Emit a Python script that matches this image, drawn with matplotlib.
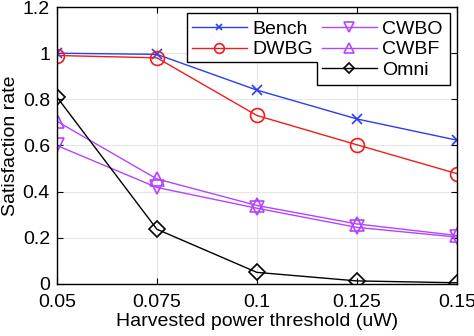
import numpy as np
import matplotlib
matplotlib.use('Agg')
from matplotlib import pyplot as plt
from matplotlib.patches import Polygon

plt.rcParams['font.family'] = ['Liberation Sans', 'DejaVu Sans']

thresholds = [0.05, 0.075, 0.1, 0.125, 0.15]
bench = [1.0, 0.995, 0.84, 0.715, 0.623]
dwbg = [0.99, 0.98, 0.73, 0.603, 0.478]
cwbo = [0.60, 0.418, 0.328, 0.245, 0.203]
cwbf = [0.705, 0.455, 0.34, 0.26, 0.21]
omni = [0.81, 0.237, 0.05, 0.013, 0.005]

xticks = [0.05, 0.075, 0.1, 0.125, 0.15]
xlabels = ['0.05', '0.075', '0.1', '0.125', '0.15']
yticks = [0, 0.2, 0.4, 0.6, 0.8, 1.0, 1.2]
ylabels = ['0', '0.2', '0.4', '0.6', '0.8', '1', '1.2']

fig = plt.figure(figsize=(4.74, 3.36), dpi=100)
ax = fig.add_axes([0.120, 0.155, 0.844, 0.824])

purple = '#b444ff'
ms = 10
h1, = ax.plot(thresholds, bench, '-x', color='#2b3cf5', lw=1, ms=7, mew=1.2, label='Bench')
h2, = ax.plot(thresholds, dwbg, '-o', color='#f01c1c', lw=1, ms=ms, mfc='none', mew=1.2, label='DWBG')
h3, = ax.plot(thresholds, cwbo, '-v', color=purple, lw=1, ms=ms, mfc='none', mew=1.2, label='CWBO')
h4, = ax.plot(thresholds, cwbf, '-^', color=purple, lw=1, ms=ms, mfc='none', mew=1.2, label='CWBF')
h5, = ax.plot(thresholds, omni, '-D', color='black', lw=1, ms=8, mfc='none', mew=1.2, label='Omni')

ax.set_xlim(0.05, 0.15)
ax.set_ylim(0, 1.2)
ax.set_xticks(xticks)
ax.set_xticklabels(xlabels)
ax.set_yticks(yticks)
ax.set_yticklabels(ylabels)
ax.tick_params(direction='in', labelsize=14, length=4, top=True, right=True)
ax.tick_params(axis='x', pad=7)
ax.tick_params(axis='y', pad=5)
ax.grid(True, color='#e6e6e6', lw=0.8)
ax.set_axisbelow(True)
for s in ax.spines.values():
    s.set_linewidth(1)
ax.set_xlabel('Harvested power threshold (uW)', fontsize=14, labelpad=2)
ax.set_ylabel('Satisfaction rate', fontsize=14, labelpad=3)

# stepped legend outline like the original
outline = Polygon([[0.325, 0.978], [0.9825, 0.978], [0.9825, 0.718], [0.65, 0.718],
                   [0.65, 0.801], [0.325, 0.801]], closed=True, transform=ax.transAxes,
                  facecolor='white', edgecolor='black', lw=1, zorder=4)
ax.add_patch(outline)

kw = dict(frameon=False, fontsize=14, handlelength=2.8, handletextpad=0.3,
          labelspacing=0.15, borderpad=0, borderaxespad=0, loc='upper left',
          markerscale=0.7)
leg1 = ax.legend(handles=[h1, h2], bbox_to_anchor=(0.338, 0.952), **kw)
leg1.set_zorder(5)
ax.add_artist(leg1)
leg2 = ax.legend(handles=[h3, h4, h5], bbox_to_anchor=(0.663, 0.952), **kw)
leg2.set_zorder(5)

fig.savefig('out.png', dpi=100)
